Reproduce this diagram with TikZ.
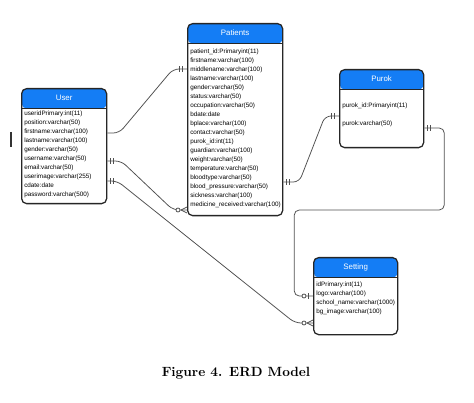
\documentclass[tikz,border=0pt]{standalone}
\usepackage{fontspec}
\setsansfont{Liberation Sans}
\usepackage{tikz}
\usetikzlibrary{calc,decorations.markings,positioning}
\definecolor{erdblue}{RGB}{20,125,245}
\definecolor{erdline}{RGB}{80,80,80}
\newlength\erdpx
\setlength\erdpx{0.025cm}

\begin{document}
\begin{tikzpicture}[x=0.025cm,y=0.025cm,
  entity/.style={draw=black!85,line width=0.9pt,fill=white,rounded corners=5\erdpx,anchor=north west,inner sep=0pt,
    path picture={\fill[erdblue] (path picture bounding box.north west) rectangle ([yshift=-20\erdpx]path picture bounding box.north east);
      \draw[black!85,line width=0.5pt] ([yshift=-20\erdpx]path picture bounding box.north west) -- ([yshift=-20\erdpx]path picture bounding box.north east);}},
  enttitle/.style={text=white,font=\sffamily\fontsize{5.6}{6}\selectfont,inner sep=0pt},
  attrs/.style={anchor=north west,align=left,inner sep=0pt,font=\sffamily\fontsize{4.5}{6.4}\selectfont},
  rel/.style={draw=erdline,line width=0.55pt,rounded corners=6\erdpx},
  startbars/.style={postaction={decorate,decoration={markings,mark=at position 0 with {\draw[erdline,line width=0.55pt] (3,-3) -- (3,3) (6,-3) -- (6,3);}}}},
  endbars/.style={postaction={decorate,decoration={markings,mark=at position 1 with {\draw[erdline,line width=0.55pt] (-5,-3) -- (-5,3) (-8,-3) -- (-8,3);}}}},
  endmany/.style={postaction={decorate,decoration={markings,mark=at position 1 with {\draw[erdline,line width=0.55pt] (-6,0) -- (0,3) (-6,0) -- (0,-3); \draw[erdline,line width=0.55pt,fill=white] (-9,0) circle (2);}}}},
  endone/.style={postaction={decorate,decoration={markings,mark=at position 1 with {\draw[erdline,line width=0.55pt] (-5,-3) -- (-5,3); \draw[erdline,line width=0.55pt,fill=white] (-9,0) circle (2);}}}}
]
  \useasboundingbox (0,0) rectangle (474,402);

  \node[entity,minimum width=85\erdpx,minimum height=115\erdpx] (user) at (21,314) {};
  \node[enttitle] (usertitle) at ([yshift=-10\erdpx]user.north) {User};
  \node[attrs] (userattrs) at ([xshift=3\erdpx,yshift=-23\erdpx]user.north west)
    {useridPrimary:int(11)\\position:varchar(50)\\firstname:varchar(100)\\lastname:varchar(100)\\gender:varchar(50)\\username:varchar(50)\\email:varchar(50)\\userimage:varchar(255)\\cdate:date\\password:varchar(500)};

  \node[entity,minimum width=95\erdpx,minimum height=192\erdpx] (patients) at (187,379) {};
  \node[enttitle] (patientstitle) at ([yshift=-10\erdpx]patients.north) {Patients};
  \node[attrs] (patientsattrs) at ([xshift=3\erdpx,yshift=-26\erdpx]patients.north west)
    {patient\_id:Primaryint(11)\\firstname:varchar(100)\\middlename:varchar(100)\\lastname:varchar(100)\\gender:varchar(50)\\status:varchar(50)\\occupation:varchar(50)\\bdate:date\\bplace:varchar(100)\\contact:varchar(50)\\purok\_id:int(11)\\guardian:varchar(100)\\weight:varchar(50)\\temperature:varchar(50)\\bloodtype:varchar(50)\\blood\_pressure:varchar(50)\\sickness:varchar(100)\\medicine\_received:varchar(100)};

  \node[entity,minimum width=84\erdpx,minimum height=78\erdpx] (purok) at (339,333) {};
  \node[enttitle] (puroktitle) at ([yshift=-10\erdpx]purok.north) {Purok};
  \node[attrs] (purokattrs) at ([xshift=3\erdpx,yshift=-34\erdpx]purok.north west)
    {purok\_id:Primaryint(11)\\[6.4pt]purok:varchar(50)};

  \node[entity,minimum width=84\erdpx,minimum height=77\erdpx] (setting) at (313,145) {};
  \node[enttitle] (settingtitle) at ([yshift=-10\erdpx]setting.north) {Setting};
  \node[attrs] (settingattrs) at ([xshift=3\erdpx,yshift=-25\erdpx]setting.north west)
    {idPrimary:int(11)\\logo:varchar(100)\\school\_name:varchar(1000)\\bg\_image:varchar(100)};

  \draw[rel,endbars] ([yshift=-45\erdpx]user.north east) -- ++(12,0)
    -- ([xshift=-14\erdpx,yshift=-46\erdpx]patients.north west) -- ([yshift=-46\erdpx]patients.north west);
  \draw[rel,startbars,endmany] ([yshift=-73\erdpx]user.north east) -- ++(14,0)
    -- ([xshift=-14\erdpx,yshift=-187\erdpx]patients.north west) -- ([yshift=-187\erdpx]patients.north west);
  \draw[rel,startbars,endmany] ([yshift=-93\erdpx]user.north east) -- ++(10,0)
    -- ([xshift=-18\erdpx,yshift=-66\erdpx]setting.north west) -- ([yshift=-66\erdpx]setting.north west);
  \draw[rel,startbars,endbars] ([yshift=-159\erdpx]patients.north east) -- ++(16,0)
    -- ([xshift=-14\erdpx,yshift=-47\erdpx]purok.north west) -- ([yshift=-47\erdpx]purok.north west);
  \draw[rel,rounded corners=5\erdpx,startbars,endone] ([yshift=-59\erdpx]purok.north east) -- ++(20,0) -- ++(0,-82)
    -- ++(-150,0) |- ([yshift=-39\erdpx]setting.north west);

  \draw[line width=0.9pt,black!80] (11,270) -- (11,255);

  \node[font=\bfseries\fontsize{9.5}{11}\selectfont] (caption) at (236,29) {Figure 4. ERD Model};
\end{tikzpicture}
\end{document}
